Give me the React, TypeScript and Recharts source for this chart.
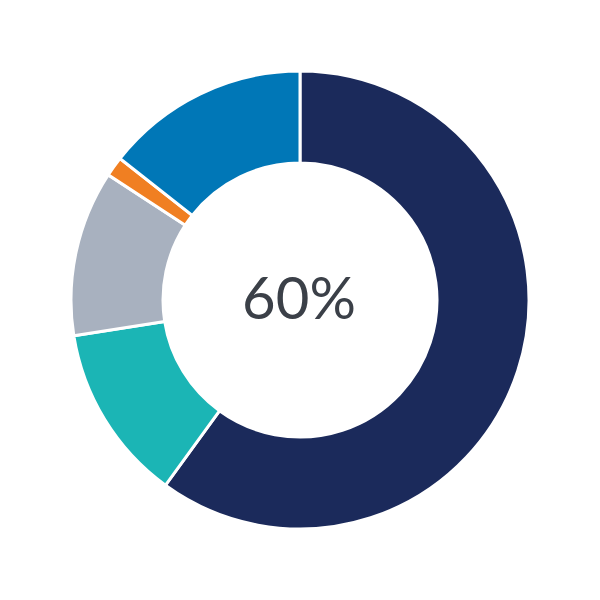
import { PieChart, Pie, Cell } from "recharts";

const categories = ["Navy", "Teal", "Grey", "Orange", "Blue"];
const shares = [60, 12.5, 11.7, 1.4, 14.4];
const colors = ["#1b2a5b", "#1bb5b5", "#a8b1bf", "#f07f22", "#0077b7"];
const centerLabel = "60%";

const data = categories.map((name, i) => ({ name, value: shares[i] }));

export default function App() {
  return (
    <div style={{ position: "absolute", left: 0, top: 0, width: 600, height: 600, background: "#fff" }}>
      <PieChart width={600} height={600} margin={{ top: 0, right: 0, bottom: 0, left: 0 }}>
        <Pie
          data={data}
          dataKey="value"
          nameKey="name"
          cx={300}
          cy={300}
          innerRadius={137}
          outerRadius={229}
          startAngle={90}
          endAngle={-270}
          stroke="#ffffff"
          strokeWidth={3}
          isAnimationActive={false}
        >
          {data.map((d, i) => (
            <Cell key={d.name} fill={colors[i]} />
          ))}
        </Pie>
        <text
          x={299}
          y={319}
          textAnchor="middle"
          fill="#3b4048"
          style={{ fontFamily: "Lato", fontSize: 58, fontWeight: 400 }}
        >
          {centerLabel}
        </text>
      </PieChart>
    </div>
  );
}
